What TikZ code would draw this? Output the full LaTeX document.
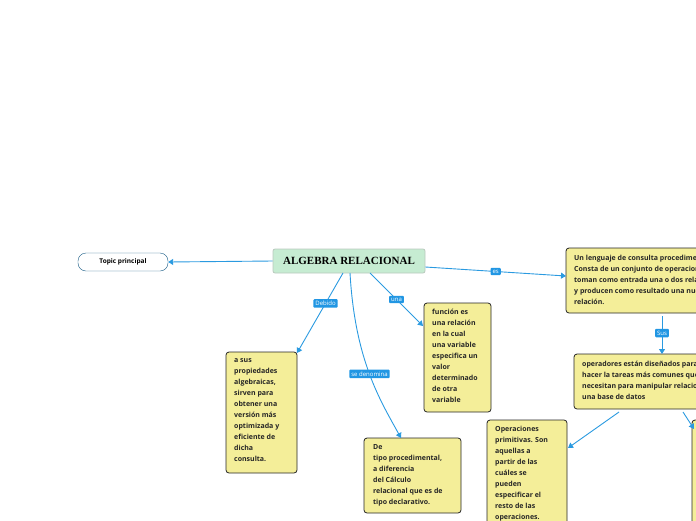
\documentclass[tikz,border=0pt]{standalone}
\usepackage{fontspec}
\setmainfont{Open Sans}
\newfontfamily\titlefont{Liberation Serif}
\usetikzlibrary{arrows.meta}
\definecolor{yel}{HTML}{F4EE99}
\definecolor{grn}{HTML}{C6ECD2}
\definecolor{blu}{HTML}{2A9AE0}
\definecolor{lab}{HTML}{2196E3}
\begin{document}
\begin{tikzpicture}[x=1pt,y=-1pt,
  card/.style={draw=black!85,fill=yel,rounded corners=3pt,line width=0.8pt,anchor=north west,inner sep=0pt},
  txt/.style={anchor=north west,align=left,font=\fontsize{7}{11}\selectfont\bfseries,text=black!85,inner sep=0pt},
  lbl/.style={fill=lab,text=white,rounded corners=1pt,font=\fontsize{6}{7}\selectfont,inner sep=2pt},
  conn/.style={draw=blu,line width=0.9pt,-{Triangle[length=5pt,width=6pt]}}]
\useasboundingbox (0,0) rectangle (696,520);
\clip (0,0) rectangle (696,520);
% title
\node[draw=grn!70!black!60,fill=grn,rounded corners=2pt,minimum width=152pt,minimum height=24pt,line width=0.8pt,font=\titlefont\bfseries\fontsize{11}{12}\selectfont] (t) at (349,261) {ALGEBRA RELACIONAL};
\node[draw=blu!60!black,fill=white,rounded corners=8pt,minimum width=90pt,minimum height=18pt,font=\fontsize{6.5}{7}\selectfont\bfseries] (tp) at (123,262) {Topic principal};
% cards
\draw[card] (566,248) rectangle (720,313); \coordinate (L) at (566,276); \coordinate (Lb) at (662,316);
\node[txt] at (574,255) {Un lenguaje de consulta procedimental.\\Consta de un conjunto de operaciones que\\toman como entrada una o dos relaciones\\y producen como resultado una nueva\\relación.};
\draw[card] (574,354) rectangle (720,409); \coordinate (O) at (662,354);
\node[txt] at (582,361) {operadores están diseñados para\\hacer la tareas más comunes que se\\necesitan para manipular relaciones en\\una base de datos};
\draw[card] (424,303) rectangle (491,412); \coordinate (F) at (423,326);
\node[txt] at (432,309) {función es\\una relación\\en la cual\\una variable\\especifica un\\valor\\determinado\\de otra\\variable};
\draw[card] (226,352) rectangle (297,473); \coordinate (A) at (297,353);
\node[txt] at (234,358) {a sus\\propiedades\\algebraicas,\\sirven para\\obtener una\\versión más\\optimizada y\\eficiente de\\dicha\\consulta.};
\draw[card] (364,438) rectangle (461,513); \coordinate (D) at (401,438);
\node[txt] at (373,444) {De\\tipo procedimental,\\a diferencia\\del Cálculo\\relacional que es de\\tipo declarativo.};
\draw[card] (487,420) rectangle (567,540); \coordinate (P) at (568,448);
\node[txt] at (495,426) {Operaciones\\primitivas. Son\\aquellas a\\partir de las\\cuáles se\\pueden\\especificar el\\resto de las\\operaciones.};
\draw[card] (692,420) rectangle (760,540); \coordinate (R) at (694,429);
% connectors
\draw[conn] (t.west) -- (tp.east);
\draw[conn] (t.east) ++(0,6) coordinate (te) -- node[lbl,pos=0.5]{es} (L);
\draw[conn] (Lb) -- node[lbl,pos=0.45]{Sus} (O);
\draw[conn] (343,273) -- node[lbl,pos=0.38]{Debido} (A);
\draw[conn] (370,273) -- node[lbl,pos=0.5]{una} (F);
\draw[conn] (350,273) .. controls (355,360) and (380,400) .. node[lbl,pos=0.5]{se denomina} (D);
\draw[conn] (619,412) -- (P);
\draw[conn] (683,412) -- (R);
\end{tikzpicture}
\end{document}
